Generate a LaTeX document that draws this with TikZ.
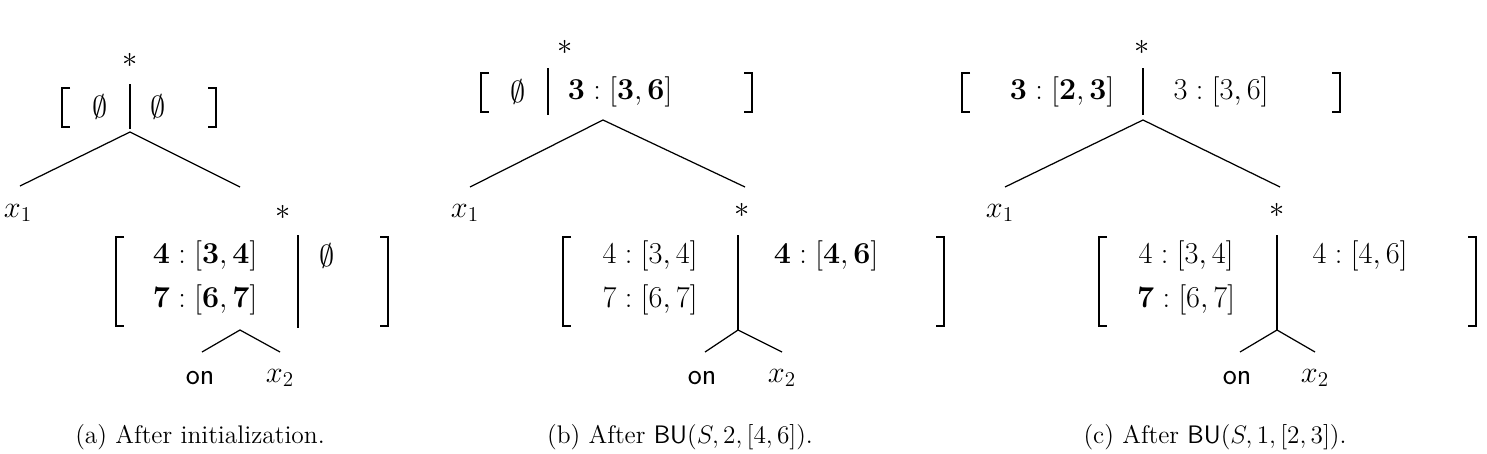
\documentclass[tikz,border=0pt]{standalone}
\usepackage{amsmath}
\begin{document}
\begin{tikzpicture}[x=0.02cm,y=-0.02cm,
  t/.style={font=\fontsize{17}{21}\selectfont,inner sep=0pt},
  captxt/.style={font=\fontsize{14.5}{17}\selectfont,inner sep=0pt},
  br/.style={line width=0.9pt},
  ln/.style={line width=0.7pt}]
\useasboundingbox (0,0) rectangle (1487,453);
\newcommand{\lbr}[3]{\draw[br] (#1+8,#2) -- (#1,#2) -- (#1,#3) -- (#1+8,#3);}
\newcommand{\rbr}[3]{\draw[br] (#1-8,#2) -- (#1,#2) -- (#1,#3) -- (#1-8,#3);}
% ---------- (a)
\node[t] (as) at (130,60) {$*$};
\lbr{62}{88}{127}\rbr{216}{88}{127}
\node[t] (ae1) at (100,107) {$\emptyset$};
\draw[ln] (130,84) -- (130,129);
\node[t] (ae2) at (158,107) {$\emptyset$};
\coordinate (aT) at (130,132);
\coordinate (aL) at (20,186);\coordinate (aR) at (240,187);
\draw[ln] (aL) -- (aT) -- (aR);
\node[t] (ax1) at (18,213) {$x_1$};
\node[t] (as2) at (283,212) {$*$};
\lbr{116}{237}{326}\rbr{388}{237}{326}
\node[t] (aa1) at (205,256) {$\mathbf{4}:[\mathbf{3},\mathbf{4}]$};
\node[t] (aa2) at (205,300) {$\mathbf{7}:[\mathbf{6},\mathbf{7}]$};
\draw[ln] (298,235) -- (298,328);
\node[t] (aa3) at (327,256) {$\emptyset$};
\coordinate (aT2) at (240,330);\coordinate (aL2) at (202,352);\coordinate (aR2) at (280,352);
\draw[ln] (aL2) -- (aT2) -- (aR2);
\node[t] (aon) at (200,378) {\textsf{on}};
\node[t] (ax2) at (280,378) {$x_2$};
\node[captxt] (ca) at (200,437) {(a) After initialization.};
% ---------- (b)
\node[t] (bs) at (565,47) {$*$};
\lbr{481}{73}{112}\rbr{752}{73}{112}
\node[t] (be1) at (518,92) {$\emptyset$};
\draw[ln] (548,68) -- (548,115);
\node[t] (be2) at (620,92) {$\mathbf{3}:[\mathbf{3},\mathbf{6}]$};
\coordinate (bT) at (603,120);
\coordinate (bL) at (470,187);\coordinate (bR) at (745,187);
\draw[ln] (bL) -- (bT) -- (bR);
\node[t] (bx1) at (465,213) {$x_1$};
\node[t] (bs2) at (742,210) {$*$};
\lbr{563}{237}{326}\rbr{944}{237}{326}
\node[t] (bb1) at (650,256) {$4:[3,4]$};
\node[t] (bb2) at (650,300) {$7:[6,7]$};
\draw[ln] (738,235) -- (738,330);
\node[t] (bb3) at (826,256) {$\mathbf{4}:[\mathbf{4},\mathbf{6}]$};
\coordinate (bT2) at (738,330);\coordinate (bL2) at (705,352);\coordinate (bR2) at (782,352);
\draw[ln] (bL2) -- (bT2) -- (bR2);
\node[t] (bon) at (702,378) {\textsf{on}};
\node[t] (bx2) at (782,378) {$x_2$};
\node[captxt] (cb) at (680,437) {(b) After $\mathsf{BU}(S,2,[4,6])$.};
% ---------- (c)
\node[t] (cs) at (1142,47) {$*$};
\lbr{962}{73}{112}\rbr{1340}{73}{112}
\node[t] (ce1) at (1062,92) {$\mathbf{3}:[\mathbf{2},\mathbf{3}]$};
\draw[ln] (1143,68) -- (1143,115);
\node[t] (ce2) at (1221,92) {$3:[3,6]$};
\coordinate (cT) at (1143,120);
\coordinate (cL) at (1005,187);\coordinate (cR) at (1280,187);
\draw[ln] (cL) -- (cT) -- (cR);
\node[t] (cx1) at (1000,213) {$x_1$};
\node[t] (cs2) at (1277,210) {$*$};
\lbr{1099}{237}{326}\rbr{1476}{237}{326}
\node[t] (cc1) at (1186,256) {$4:[3,4]$};
\node[t] (cc2) at (1186,300) {$\mathbf{7}:[6,7]$};
\draw[ln] (1277,235) -- (1277,330);
\node[t] (cc3) at (1360,256) {$4:[4,6]$};
\coordinate (cT2) at (1277,330);\coordinate (cL2) at (1240,352);\coordinate (cR2) at (1315,352);
\draw[ln] (cL2) -- (cT2) -- (cR2);
\node[t] (con) at (1237,378) {\textsf{on}};
\node[t] (cx2) at (1315,378) {$x_2$};
\node[captxt] (cc) at (1215,437) {(c) After $\mathsf{BU}(S,1,[2,3])$.};
\end{tikzpicture}
\end{document}
